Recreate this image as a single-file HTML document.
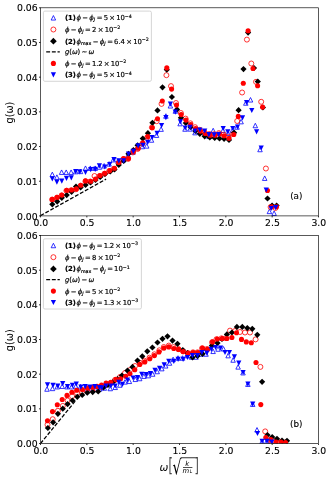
<!DOCTYPE html>
<html><head><meta charset="utf-8"><style>
html,body{margin:0;padding:0;background:#fff;}
svg{display:block;}
text{font-family:'DejaVu Sans', 'Liberation Sans', sans-serif;fill:#000;}
.tk{font-size:9.3px;stroke:#000;stroke-width:0.12px;}
.lg{font-size:7px;}
.lgt{stroke:#000;stroke-width:0.18px;}
.an{font-size:8.8px;stroke:#000;stroke-width:0.12px;}
</style></head><body>
<svg width="330" height="480" viewBox="0 0 330 480">
<rect width="330" height="480" fill="#fff"/>
<clipPath id="cliptop"><rect x="40.50" y="7.80" width="278.00" height="208.10"/></clipPath>
<clipPath id="clipbot"><rect x="40.50" y="235.50" width="278.00" height="208.00"/></clipPath>
<g clip-path="url(#cliptop)">
<path d="M52.30,172.15L50.05,176.65L54.55,176.65Z" fill="none" stroke="#0000ff" stroke-width="0.8" stroke-linejoin="miter"/>
<path d="M56.90,174.85L54.65,179.35L59.15,179.35Z" fill="none" stroke="#0000ff" stroke-width="0.8" stroke-linejoin="miter"/>
<path d="M61.60,169.95L59.35,174.45L63.85,174.45Z" fill="none" stroke="#0000ff" stroke-width="0.8" stroke-linejoin="miter"/>
<path d="M66.20,169.95L63.95,174.45L68.45,174.45Z" fill="none" stroke="#0000ff" stroke-width="0.8" stroke-linejoin="miter"/>
<path d="M71.10,169.95L68.85,174.45L73.35,174.45Z" fill="none" stroke="#0000ff" stroke-width="0.8" stroke-linejoin="miter"/>
<path d="M75.70,169.35L73.45,173.85L77.95,173.85Z" fill="none" stroke="#0000ff" stroke-width="0.8" stroke-linejoin="miter"/>
<path d="M80.50,169.15L78.25,173.65L82.75,173.65Z" fill="none" stroke="#0000ff" stroke-width="0.8" stroke-linejoin="miter"/>
<path d="M85.50,165.95L83.25,170.45L87.75,170.45Z" fill="none" stroke="#0000ff" stroke-width="0.8" stroke-linejoin="miter"/>
<path d="M90.30,165.95L88.05,170.45L92.55,170.45Z" fill="none" stroke="#0000ff" stroke-width="0.8" stroke-linejoin="miter"/>
<path d="M95.20,165.95L92.95,170.45L97.45,170.45Z" fill="none" stroke="#0000ff" stroke-width="0.8" stroke-linejoin="miter"/>
<path d="M99.40,164.75L97.15,169.25L101.65,169.25Z" fill="none" stroke="#0000ff" stroke-width="0.8" stroke-linejoin="miter"/>
<path d="M104.20,163.55L101.95,168.05L106.45,168.05Z" fill="none" stroke="#0000ff" stroke-width="0.8" stroke-linejoin="miter"/>
<path d="M109.10,161.65L106.85,166.15L111.35,166.15Z" fill="none" stroke="#0000ff" stroke-width="0.8" stroke-linejoin="miter"/>
<path d="M113.30,157.45L111.05,161.95L115.55,161.95Z" fill="none" stroke="#0000ff" stroke-width="0.8" stroke-linejoin="miter"/>
<path d="M118.00,158.75L115.75,163.25L120.25,163.25Z" fill="none" stroke="#0000ff" stroke-width="0.8" stroke-linejoin="miter"/>
<path d="M123.00,157.75L120.75,162.25L125.25,162.25Z" fill="none" stroke="#0000ff" stroke-width="0.8" stroke-linejoin="miter"/>
<path d="M128.00,152.75L125.75,157.25L130.25,157.25Z" fill="none" stroke="#0000ff" stroke-width="0.8" stroke-linejoin="miter"/>
<path d="M133.00,149.75L130.75,154.25L135.25,154.25Z" fill="none" stroke="#0000ff" stroke-width="0.8" stroke-linejoin="miter"/>
<path d="M137.50,145.25L135.25,149.75L139.75,149.75Z" fill="none" stroke="#0000ff" stroke-width="0.8" stroke-linejoin="miter"/>
<path d="M142.30,144.25L140.05,148.75L144.55,148.75Z" fill="none" stroke="#0000ff" stroke-width="0.8" stroke-linejoin="miter"/>
<path d="M146.70,143.65L144.45,148.15L148.95,148.15Z" fill="none" stroke="#0000ff" stroke-width="0.8" stroke-linejoin="miter"/>
<path d="M151.50,137.75L149.25,142.25L153.75,142.25Z" fill="none" stroke="#0000ff" stroke-width="0.8" stroke-linejoin="miter"/>
<path d="M156.50,132.95L154.25,137.45L158.75,137.45Z" fill="none" stroke="#0000ff" stroke-width="0.8" stroke-linejoin="miter"/>
<path d="M161.10,126.85L158.85,131.35L163.35,131.35Z" fill="none" stroke="#0000ff" stroke-width="0.8" stroke-linejoin="miter"/>
<path d="M165.90,113.75L163.65,118.25L168.15,118.25Z" fill="none" stroke="#0000ff" stroke-width="0.8" stroke-linejoin="miter"/>
<path d="M170.40,103.55L168.15,108.05L172.65,108.05Z" fill="none" stroke="#0000ff" stroke-width="0.8" stroke-linejoin="miter"/>
<path d="M175.30,108.75L173.05,113.25L177.55,113.25Z" fill="none" stroke="#0000ff" stroke-width="0.8" stroke-linejoin="miter"/>
<path d="M180.10,121.35L177.85,125.85L182.35,125.85Z" fill="none" stroke="#0000ff" stroke-width="0.8" stroke-linejoin="miter"/>
<path d="M185.00,126.75L182.75,131.25L187.25,131.25Z" fill="none" stroke="#0000ff" stroke-width="0.8" stroke-linejoin="miter"/>
<path d="M190.00,126.65L187.75,131.15L192.25,131.15Z" fill="none" stroke="#0000ff" stroke-width="0.8" stroke-linejoin="miter"/>
<path d="M195.00,130.35L192.75,134.85L197.25,134.85Z" fill="none" stroke="#0000ff" stroke-width="0.8" stroke-linejoin="miter"/>
<path d="M199.80,129.25L197.55,133.75L202.05,133.75Z" fill="none" stroke="#0000ff" stroke-width="0.8" stroke-linejoin="miter"/>
<path d="M204.70,130.25L202.45,134.75L206.95,134.75Z" fill="none" stroke="#0000ff" stroke-width="0.8" stroke-linejoin="miter"/>
<path d="M209.00,133.95L206.75,138.45L211.25,138.45Z" fill="none" stroke="#0000ff" stroke-width="0.8" stroke-linejoin="miter"/>
<path d="M213.20,128.25L210.95,132.75L215.45,132.75Z" fill="none" stroke="#0000ff" stroke-width="0.8" stroke-linejoin="miter"/>
<path d="M218.00,133.85L215.75,138.35L220.25,138.35Z" fill="none" stroke="#0000ff" stroke-width="0.8" stroke-linejoin="miter"/>
<path d="M223.00,128.05L220.75,132.55L225.25,132.55Z" fill="none" stroke="#0000ff" stroke-width="0.8" stroke-linejoin="miter"/>
<path d="M228.00,130.95L225.75,135.45L230.25,135.45Z" fill="none" stroke="#0000ff" stroke-width="0.8" stroke-linejoin="miter"/>
<path d="M232.50,127.95L230.25,132.45L234.75,132.45Z" fill="none" stroke="#0000ff" stroke-width="0.8" stroke-linejoin="miter"/>
<path d="M237.00,124.75L234.75,129.25L239.25,129.25Z" fill="none" stroke="#0000ff" stroke-width="0.8" stroke-linejoin="miter"/>
<path d="M241.10,119.35L238.85,123.85L243.35,123.85Z" fill="none" stroke="#0000ff" stroke-width="0.8" stroke-linejoin="miter"/>
<path d="M245.80,100.75L243.55,105.25L248.05,105.25Z" fill="none" stroke="#0000ff" stroke-width="0.8" stroke-linejoin="miter"/>
<path d="M250.50,97.55L248.25,102.05L252.75,102.05Z" fill="none" stroke="#0000ff" stroke-width="0.8" stroke-linejoin="miter"/>
<path d="M255.30,123.25L253.05,127.75L257.55,127.75Z" fill="none" stroke="#0000ff" stroke-width="0.8" stroke-linejoin="miter"/>
<path d="M260.00,147.25L257.75,151.75L262.25,151.75Z" fill="none" stroke="#0000ff" stroke-width="0.8" stroke-linejoin="miter"/>
<path d="M264.70,175.95L262.45,180.45L266.95,180.45Z" fill="none" stroke="#0000ff" stroke-width="0.8" stroke-linejoin="miter"/>
<path d="M269.40,209.15L267.15,213.65L271.65,213.65Z" fill="none" stroke="#0000ff" stroke-width="0.8" stroke-linejoin="miter"/>
<path d="M274.10,210.95L271.85,215.45L276.35,215.45Z" fill="none" stroke="#0000ff" stroke-width="0.8" stroke-linejoin="miter"/>
<circle cx="52.10" cy="199.60" r="2.50" fill="none" stroke="#ff0000" stroke-width="0.8"/>
<circle cx="56.90" cy="197.70" r="2.50" fill="none" stroke="#ff0000" stroke-width="0.8"/>
<circle cx="61.60" cy="195.50" r="2.50" fill="none" stroke="#ff0000" stroke-width="0.8"/>
<circle cx="66.40" cy="190.80" r="2.50" fill="none" stroke="#ff0000" stroke-width="0.8"/>
<circle cx="71.10" cy="190.30" r="2.50" fill="none" stroke="#ff0000" stroke-width="0.8"/>
<circle cx="75.90" cy="189.30" r="2.50" fill="none" stroke="#ff0000" stroke-width="0.8"/>
<circle cx="80.60" cy="185.80" r="2.50" fill="none" stroke="#ff0000" stroke-width="0.8"/>
<circle cx="85.40" cy="181.30" r="2.50" fill="none" stroke="#ff0000" stroke-width="0.8"/>
<circle cx="90.10" cy="181.60" r="2.50" fill="none" stroke="#ff0000" stroke-width="0.8"/>
<circle cx="94.50" cy="176.00" r="2.50" fill="none" stroke="#ff0000" stroke-width="0.8"/>
<circle cx="99.60" cy="176.10" r="2.50" fill="none" stroke="#ff0000" stroke-width="0.8"/>
<circle cx="104.40" cy="173.80" r="2.50" fill="none" stroke="#ff0000" stroke-width="0.8"/>
<circle cx="109.10" cy="171.20" r="2.50" fill="none" stroke="#ff0000" stroke-width="0.8"/>
<circle cx="113.90" cy="168.80" r="2.50" fill="none" stroke="#ff0000" stroke-width="0.8"/>
<circle cx="118.60" cy="163.10" r="2.50" fill="none" stroke="#ff0000" stroke-width="0.8"/>
<circle cx="123.40" cy="159.10" r="2.50" fill="none" stroke="#ff0000" stroke-width="0.8"/>
<circle cx="128.10" cy="158.90" r="2.50" fill="none" stroke="#ff0000" stroke-width="0.8"/>
<circle cx="132.90" cy="152.40" r="2.50" fill="none" stroke="#ff0000" stroke-width="0.8"/>
<circle cx="137.60" cy="149.00" r="2.50" fill="none" stroke="#ff0000" stroke-width="0.8"/>
<circle cx="142.40" cy="143.70" r="2.50" fill="none" stroke="#ff0000" stroke-width="0.8"/>
<circle cx="147.10" cy="137.70" r="2.50" fill="none" stroke="#ff0000" stroke-width="0.8"/>
<circle cx="151.90" cy="127.40" r="2.50" fill="none" stroke="#ff0000" stroke-width="0.8"/>
<circle cx="156.70" cy="121.20" r="2.50" fill="none" stroke="#ff0000" stroke-width="0.8"/>
<circle cx="161.50" cy="103.90" r="2.50" fill="none" stroke="#ff0000" stroke-width="0.8"/>
<circle cx="166.40" cy="75.20" r="2.50" fill="none" stroke="#ff0000" stroke-width="0.8"/>
<circle cx="171.00" cy="86.10" r="2.50" fill="none" stroke="#ff0000" stroke-width="0.8"/>
<circle cx="176.00" cy="103.00" r="2.50" fill="none" stroke="#ff0000" stroke-width="0.8"/>
<circle cx="180.90" cy="113.00" r="2.50" fill="none" stroke="#ff0000" stroke-width="0.8"/>
<circle cx="185.60" cy="118.60" r="2.50" fill="none" stroke="#ff0000" stroke-width="0.8"/>
<circle cx="190.40" cy="123.30" r="2.50" fill="none" stroke="#ff0000" stroke-width="0.8"/>
<circle cx="195.10" cy="127.20" r="2.50" fill="none" stroke="#ff0000" stroke-width="0.8"/>
<circle cx="199.90" cy="129.80" r="2.50" fill="none" stroke="#ff0000" stroke-width="0.8"/>
<circle cx="204.60" cy="132.20" r="2.50" fill="none" stroke="#ff0000" stroke-width="0.8"/>
<circle cx="209.40" cy="134.00" r="2.50" fill="none" stroke="#ff0000" stroke-width="0.8"/>
<circle cx="214.10" cy="134.20" r="2.50" fill="none" stroke="#ff0000" stroke-width="0.8"/>
<circle cx="218.90" cy="133.10" r="2.50" fill="none" stroke="#ff0000" stroke-width="0.8"/>
<circle cx="223.60" cy="134.60" r="2.50" fill="none" stroke="#ff0000" stroke-width="0.8"/>
<circle cx="228.40" cy="136.90" r="2.50" fill="none" stroke="#ff0000" stroke-width="0.8"/>
<circle cx="233.10" cy="134.00" r="2.50" fill="none" stroke="#ff0000" stroke-width="0.8"/>
<circle cx="237.20" cy="121.00" r="2.50" fill="none" stroke="#ff0000" stroke-width="0.8"/>
<circle cx="242.10" cy="92.50" r="2.50" fill="none" stroke="#ff0000" stroke-width="0.8"/>
<circle cx="246.90" cy="39.60" r="2.50" fill="none" stroke="#ff0000" stroke-width="0.8"/>
<circle cx="251.30" cy="63.50" r="2.50" fill="none" stroke="#ff0000" stroke-width="0.8"/>
<circle cx="256.00" cy="81.80" r="2.50" fill="none" stroke="#ff0000" stroke-width="0.8"/>
<circle cx="261.20" cy="101.80" r="2.50" fill="none" stroke="#ff0000" stroke-width="0.8"/>
<circle cx="265.90" cy="168.50" r="2.50" fill="none" stroke="#ff0000" stroke-width="0.8"/>
<circle cx="270.60" cy="207.00" r="2.50" fill="none" stroke="#ff0000" stroke-width="0.8"/>
<circle cx="275.40" cy="208.00" r="2.50" fill="none" stroke="#ff0000" stroke-width="0.8"/>
<path d="M52.30,201.20L55.40,204.30L52.30,207.40L49.20,204.30Z" fill="#000000"/>
<path d="M57.20,198.50L60.30,201.60L57.20,204.70L54.10,201.60Z" fill="#000000"/>
<path d="M61.80,194.70L64.90,197.80L61.80,200.90L58.70,197.80Z" fill="#000000"/>
<path d="M66.70,192.00L69.80,195.10L66.70,198.20L63.60,195.10Z" fill="#000000"/>
<path d="M71.60,188.70L74.70,191.80L71.60,194.90L68.50,191.80Z" fill="#000000"/>
<path d="M76.00,183.40L79.10,186.50L76.00,189.60L72.90,186.50Z" fill="#000000"/>
<path d="M80.60,184.30L83.70,187.40L80.60,190.50L77.50,187.40Z" fill="#000000"/>
<path d="M85.57,181.83L88.67,184.93L85.57,188.03L82.47,184.93Z" fill="#000000"/>
<path d="M90.53,179.37L93.63,182.47L90.53,185.57L87.43,182.47Z" fill="#000000"/>
<path d="M95.50,176.90L98.60,180.00L95.50,183.10L92.40,180.00Z" fill="#000000"/>
<path d="M100.25,173.90L103.35,177.00L100.25,180.10L97.15,177.00Z" fill="#000000"/>
<path d="M105.00,170.90L108.10,174.00L105.00,177.10L101.90,174.00Z" fill="#000000"/>
<path d="M110.30,168.40L113.40,171.50L110.30,174.60L107.20,171.50Z" fill="#000000"/>
<path d="M114.50,166.40L117.60,169.50L114.50,172.60L111.40,169.50Z" fill="#000000"/>
<path d="M118.80,161.90L121.90,165.00L118.80,168.10L115.70,165.00Z" fill="#000000"/>
<path d="M123.70,157.90L126.80,161.00L123.70,164.10L120.60,161.00Z" fill="#000000"/>
<path d="M128.50,150.70L131.60,153.80L128.50,156.90L125.40,153.80Z" fill="#000000"/>
<path d="M133.40,146.90L136.50,150.00L133.40,153.10L130.30,150.00Z" fill="#000000"/>
<path d="M137.60,142.20L140.70,145.30L137.60,148.40L134.50,145.30Z" fill="#000000"/>
<path d="M142.80,135.50L145.90,138.60L142.80,141.70L139.70,138.60Z" fill="#000000"/>
<path d="M147.90,130.10L151.00,133.20L147.90,136.30L144.80,133.20Z" fill="#000000"/>
<path d="M152.40,119.70L155.50,122.80L152.40,125.90L149.30,122.80Z" fill="#000000"/>
<path d="M157.50,107.30L160.60,110.40L157.50,113.50L154.40,110.40Z" fill="#000000"/>
<path d="M162.50,84.20L165.60,87.30L162.50,90.40L159.40,87.30Z" fill="#000000"/>
<path d="M166.80,66.60L169.90,69.70L166.80,72.80L163.70,69.70Z" fill="#000000"/>
<path d="M171.90,93.90L175.00,97.00L171.90,100.10L168.80,97.00Z" fill="#000000"/>
<path d="M177.00,106.30L180.10,109.40L177.00,112.50L173.90,109.40Z" fill="#000000"/>
<path d="M180.90,114.70L184.00,117.80L180.90,120.90L177.80,117.80Z" fill="#000000"/>
<path d="M185.80,119.90L188.90,123.00L185.80,126.10L182.70,123.00Z" fill="#000000"/>
<path d="M190.50,123.90L193.60,127.00L190.50,130.10L187.40,127.00Z" fill="#000000"/>
<path d="M195.40,127.90L198.50,131.00L195.40,134.10L192.30,131.00Z" fill="#000000"/>
<path d="M199.80,130.70L202.90,133.80L199.80,136.90L196.70,133.80Z" fill="#000000"/>
<path d="M204.70,133.20L207.80,136.30L204.70,139.40L201.60,136.30Z" fill="#000000"/>
<path d="M209.80,134.40L212.90,137.50L209.80,140.60L206.70,137.50Z" fill="#000000"/>
<path d="M214.70,134.90L217.80,138.00L214.70,141.10L211.60,138.00Z" fill="#000000"/>
<path d="M219.50,135.40L222.60,138.50L219.50,141.60L216.40,138.50Z" fill="#000000"/>
<path d="M224.10,135.70L227.20,138.80L224.10,141.90L221.00,138.80Z" fill="#000000"/>
<path d="M229.00,136.90L232.10,140.00L229.00,143.10L225.90,140.00Z" fill="#000000"/>
<path d="M234.10,129.60L237.20,132.70L234.10,135.80L231.00,132.70Z" fill="#000000"/>
<path d="M238.60,107.10L241.70,110.20L238.60,113.30L235.50,110.20Z" fill="#000000"/>
<path d="M243.50,66.00L246.60,69.10L243.50,72.20L240.40,69.10Z" fill="#000000"/>
<path d="M248.10,29.50L251.20,32.60L248.10,35.70L245.00,32.60Z" fill="#000000"/>
<path d="M254.00,64.90L257.10,68.00L254.00,71.10L250.90,68.00Z" fill="#000000"/>
<path d="M257.80,78.50L260.90,81.60L257.80,84.70L254.70,81.60Z" fill="#000000"/>
<path d="M262.90,104.40L266.00,107.50L262.90,110.60L259.80,107.50Z" fill="#000000"/>
<path d="M267.50,195.40L270.60,198.50L267.50,201.60L264.40,198.50Z" fill="#000000"/>
<path d="M272.10,202.40L275.20,205.50L272.10,208.60L269.00,205.50Z" fill="#000000"/>
<path d="M276.60,202.40L279.70,205.50L276.60,208.60L273.50,205.50Z" fill="#000000"/>
<line x1="40.50" y1="215.60" x2="106.10" y2="179.10" stroke="#000" stroke-width="1.25" stroke-dasharray="3.9,1.75"/>
<circle cx="52.30" cy="199.40" r="2.55" fill="#ff0000"/>
<circle cx="57.20" cy="197.30" r="2.55" fill="#ff0000"/>
<circle cx="61.80" cy="195.10" r="2.55" fill="#ff0000"/>
<circle cx="66.70" cy="190.20" r="2.55" fill="#ff0000"/>
<circle cx="71.60" cy="190.00" r="2.55" fill="#ff0000"/>
<circle cx="76.30" cy="188.90" r="2.55" fill="#ff0000"/>
<circle cx="80.80" cy="185.30" r="2.55" fill="#ff0000"/>
<circle cx="85.50" cy="180.90" r="2.55" fill="#ff0000"/>
<circle cx="90.70" cy="181.30" r="2.55" fill="#ff0000"/>
<circle cx="95.50" cy="179.10" r="2.55" fill="#ff0000"/>
<circle cx="100.00" cy="175.50" r="2.55" fill="#ff0000"/>
<circle cx="104.80" cy="173.30" r="2.55" fill="#ff0000"/>
<circle cx="109.70" cy="170.60" r="2.55" fill="#ff0000"/>
<circle cx="114.50" cy="168.20" r="2.55" fill="#ff0000"/>
<circle cx="118.80" cy="162.50" r="2.55" fill="#ff0000"/>
<circle cx="123.70" cy="158.60" r="2.55" fill="#ff0000"/>
<circle cx="128.50" cy="158.60" r="2.55" fill="#ff0000"/>
<circle cx="133.40" cy="151.40" r="2.55" fill="#ff0000"/>
<circle cx="138.20" cy="148.30" r="2.55" fill="#ff0000"/>
<circle cx="142.80" cy="142.90" r="2.55" fill="#ff0000"/>
<circle cx="147.70" cy="136.60" r="2.55" fill="#ff0000"/>
<circle cx="152.20" cy="127.80" r="2.55" fill="#ff0000"/>
<circle cx="157.50" cy="118.80" r="2.55" fill="#ff0000"/>
<circle cx="162.30" cy="101.00" r="2.55" fill="#ff0000"/>
<circle cx="166.80" cy="67.90" r="2.55" fill="#ff0000"/>
<circle cx="171.60" cy="89.10" r="2.55" fill="#ff0000"/>
<circle cx="176.50" cy="105.10" r="2.55" fill="#ff0000"/>
<circle cx="181.20" cy="114.60" r="2.55" fill="#ff0000"/>
<circle cx="186.00" cy="120.10" r="2.55" fill="#ff0000"/>
<circle cx="190.70" cy="124.60" r="2.55" fill="#ff0000"/>
<circle cx="195.60" cy="128.60" r="2.55" fill="#ff0000"/>
<circle cx="200.40" cy="131.10" r="2.55" fill="#ff0000"/>
<circle cx="205.30" cy="133.50" r="2.55" fill="#ff0000"/>
<circle cx="210.10" cy="135.30" r="2.55" fill="#ff0000"/>
<circle cx="215.00" cy="135.20" r="2.55" fill="#ff0000"/>
<circle cx="219.30" cy="134.00" r="2.55" fill="#ff0000"/>
<circle cx="224.10" cy="135.80" r="2.55" fill="#ff0000"/>
<circle cx="229.00" cy="138.20" r="2.55" fill="#ff0000"/>
<circle cx="233.80" cy="134.50" r="2.55" fill="#ff0000"/>
<circle cx="238.30" cy="116.40" r="2.55" fill="#ff0000"/>
<circle cx="243.30" cy="83.30" r="2.55" fill="#ff0000"/>
<circle cx="248.10" cy="30.80" r="2.55" fill="#ff0000"/>
<circle cx="253.00" cy="68.50" r="2.55" fill="#ff0000"/>
<circle cx="257.60" cy="85.70" r="2.55" fill="#ff0000"/>
<circle cx="262.60" cy="107.10" r="2.55" fill="#ff0000"/>
<circle cx="267.50" cy="190.50" r="2.55" fill="#ff0000"/>
<circle cx="271.80" cy="206.80" r="2.55" fill="#ff0000"/>
<circle cx="276.50" cy="206.80" r="2.55" fill="#ff0000"/>
<path d="M52.30,181.50L49.70,176.30L54.90,176.30Z" fill="#0000ff"/>
<path d="M56.90,184.80L54.30,179.60L59.50,179.60Z" fill="#0000ff"/>
<path d="M61.80,183.70L59.20,178.50L64.40,178.50Z" fill="#0000ff"/>
<path d="M66.50,181.00L63.90,175.80L69.10,175.80Z" fill="#0000ff"/>
<path d="M71.30,180.40L68.70,175.20L73.90,175.20Z" fill="#0000ff"/>
<path d="M75.70,174.20L73.10,169.00L78.30,169.00Z" fill="#0000ff"/>
<path d="M79.80,174.50L77.20,169.30L82.40,169.30Z" fill="#0000ff"/>
<path d="M85.50,175.00L82.90,169.80L88.10,169.80Z" fill="#0000ff"/>
<path d="M90.70,172.20L88.10,167.00L93.30,167.00Z" fill="#0000ff"/>
<path d="M95.20,172.00L92.60,166.80L97.80,166.80Z" fill="#0000ff"/>
<path d="M99.40,168.40L96.80,163.20L102.00,163.20Z" fill="#0000ff"/>
<path d="M104.80,169.60L102.20,164.40L107.40,164.40Z" fill="#0000ff"/>
<path d="M109.70,167.10L107.10,161.90L112.30,161.90Z" fill="#0000ff"/>
<path d="M114.00,162.30L111.40,157.10L116.60,157.10Z" fill="#0000ff"/>
<path d="M118.80,163.40L116.20,158.20L121.40,158.20Z" fill="#0000ff"/>
<path d="M123.70,163.40L121.10,158.20L126.30,158.20Z" fill="#0000ff"/>
<path d="M128.50,156.60L125.90,151.40L131.10,151.40Z" fill="#0000ff"/>
<path d="M133.40,154.00L130.80,148.80L136.00,148.80Z" fill="#0000ff"/>
<path d="M138.20,148.50L135.60,143.30L140.80,143.30Z" fill="#0000ff"/>
<path d="M143.10,147.90L140.50,142.70L145.70,142.70Z" fill="#0000ff"/>
<path d="M147.70,144.90L145.10,139.70L150.30,139.70Z" fill="#0000ff"/>
<path d="M152.20,140.10L149.60,134.90L154.80,134.90Z" fill="#0000ff"/>
<path d="M157.10,135.90L154.50,130.70L159.70,130.70Z" fill="#0000ff"/>
<path d="M161.60,128.10L159.00,122.90L164.20,122.90Z" fill="#0000ff"/>
<path d="M165.90,120.20L163.30,115.00L168.50,115.00Z" fill="#0000ff"/>
<path d="M170.40,106.80L167.80,101.60L173.00,101.60Z" fill="#0000ff"/>
<path d="M175.30,114.70L172.70,109.50L177.90,109.50Z" fill="#0000ff"/>
<path d="M180.40,124.50L177.80,119.30L183.00,119.30Z" fill="#0000ff"/>
<path d="M185.20,130.60L182.60,125.40L187.80,125.40Z" fill="#0000ff"/>
<path d="M190.10,130.00L187.50,124.80L192.70,124.80Z" fill="#0000ff"/>
<path d="M195.00,133.70L192.40,128.50L197.60,128.50Z" fill="#0000ff"/>
<path d="M199.80,132.60L197.20,127.40L202.40,127.40Z" fill="#0000ff"/>
<path d="M204.70,133.60L202.10,128.40L207.30,128.40Z" fill="#0000ff"/>
<path d="M208.90,137.30L206.30,132.10L211.50,132.10Z" fill="#0000ff"/>
<path d="M214.10,137.50L211.50,132.30L216.70,132.30Z" fill="#0000ff"/>
<path d="M218.70,137.10L216.10,131.90L221.30,131.90Z" fill="#0000ff"/>
<path d="M223.20,131.10L220.60,125.90L225.80,125.90Z" fill="#0000ff"/>
<path d="M227.80,134.40L225.20,129.20L230.40,129.20Z" fill="#0000ff"/>
<path d="M232.80,131.10L230.20,125.90L235.40,125.90Z" fill="#0000ff"/>
<path d="M237.50,129.60L234.90,124.40L240.10,124.40Z" fill="#0000ff"/>
<path d="M242.50,120.50L239.90,115.30L245.10,115.30Z" fill="#0000ff"/>
<path d="M246.60,105.30L244.00,100.10L249.20,100.10Z" fill="#0000ff"/>
<path d="M251.80,113.10L249.20,107.90L254.40,107.90Z" fill="#0000ff"/>
<path d="M256.60,134.40L254.00,129.20L259.20,129.20Z" fill="#0000ff"/>
<path d="M261.20,150.60L258.60,145.40L263.80,145.40Z" fill="#0000ff"/>
<path d="M266.20,192.60L263.60,187.40L268.80,187.40Z" fill="#0000ff"/>
<path d="M271.20,211.10L268.60,205.90L273.80,205.90Z" fill="#0000ff"/>
<path d="M275.70,210.30L273.10,205.10L278.30,205.10Z" fill="#0000ff"/>
</g>
<line x1="40.50" y1="215.90" x2="40.50" y2="217.40" stroke="#000" stroke-width="0.8"/>
<text x="40.80" y="226.40" text-anchor="middle" class="tk">0.0</text>
<line x1="86.83" y1="215.90" x2="86.83" y2="217.40" stroke="#000" stroke-width="0.8"/>
<text x="87.13" y="226.40" text-anchor="middle" class="tk">0.5</text>
<line x1="133.17" y1="215.90" x2="133.17" y2="217.40" stroke="#000" stroke-width="0.8"/>
<text x="133.47" y="226.40" text-anchor="middle" class="tk">1.0</text>
<line x1="179.50" y1="215.90" x2="179.50" y2="217.40" stroke="#000" stroke-width="0.8"/>
<text x="179.80" y="226.40" text-anchor="middle" class="tk">1.5</text>
<line x1="225.83" y1="215.90" x2="225.83" y2="217.40" stroke="#000" stroke-width="0.8"/>
<text x="226.13" y="226.40" text-anchor="middle" class="tk">2.0</text>
<line x1="272.17" y1="215.90" x2="272.17" y2="217.40" stroke="#000" stroke-width="0.8"/>
<text x="272.47" y="226.40" text-anchor="middle" class="tk">2.5</text>
<line x1="318.50" y1="215.90" x2="318.50" y2="217.40" stroke="#000" stroke-width="0.8"/>
<text x="318.80" y="226.40" text-anchor="middle" class="tk">3.0</text>
<line x1="39.00" y1="215.90" x2="40.50" y2="215.90" stroke="#000" stroke-width="0.8"/>
<text x="37.70" y="219.50" text-anchor="end" class="tk">0.00</text>
<line x1="39.00" y1="181.22" x2="40.50" y2="181.22" stroke="#000" stroke-width="0.8"/>
<text x="37.70" y="184.82" text-anchor="end" class="tk">0.01</text>
<line x1="39.00" y1="146.53" x2="40.50" y2="146.53" stroke="#000" stroke-width="0.8"/>
<text x="37.70" y="150.13" text-anchor="end" class="tk">0.02</text>
<line x1="39.00" y1="111.85" x2="40.50" y2="111.85" stroke="#000" stroke-width="0.8"/>
<text x="37.70" y="115.45" text-anchor="end" class="tk">0.03</text>
<line x1="39.00" y1="77.17" x2="40.50" y2="77.17" stroke="#000" stroke-width="0.8"/>
<text x="37.70" y="80.77" text-anchor="end" class="tk">0.04</text>
<line x1="39.00" y1="42.48" x2="40.50" y2="42.48" stroke="#000" stroke-width="0.8"/>
<text x="37.70" y="46.08" text-anchor="end" class="tk">0.05</text>
<line x1="39.00" y1="7.80" x2="40.50" y2="7.80" stroke="#000" stroke-width="0.8"/>
<text x="37.70" y="11.40" text-anchor="end" class="tk">0.06</text>
<rect x="40.50" y="7.80" width="278.00" height="208.10" fill="none" stroke="#000" stroke-width="0.65"/>
<text transform="translate(13.2,112.55) rotate(-90)" text-anchor="middle" font-size="9.75">g(ω)</text>
<g clip-path="url(#clipbot)">
<path d="M47.00,386.75L44.75,391.25L49.25,391.25Z" fill="none" stroke="#0000ff" stroke-width="0.8" stroke-linejoin="miter"/>
<path d="M52.50,386.15L50.25,390.65L54.75,390.65Z" fill="none" stroke="#0000ff" stroke-width="0.8" stroke-linejoin="miter"/>
<path d="M57.30,384.45L55.05,388.95L59.55,388.95Z" fill="none" stroke="#0000ff" stroke-width="0.8" stroke-linejoin="miter"/>
<path d="M62.20,383.95L59.95,388.45L64.45,388.45Z" fill="none" stroke="#0000ff" stroke-width="0.8" stroke-linejoin="miter"/>
<path d="M67.00,384.45L64.75,388.95L69.25,388.95Z" fill="none" stroke="#0000ff" stroke-width="0.8" stroke-linejoin="miter"/>
<path d="M71.60,384.45L69.35,388.95L73.85,388.95Z" fill="none" stroke="#0000ff" stroke-width="0.8" stroke-linejoin="miter"/>
<path d="M75.80,383.75L73.55,388.25L78.05,388.25Z" fill="none" stroke="#0000ff" stroke-width="0.8" stroke-linejoin="miter"/>
<path d="M80.50,384.45L78.25,388.95L82.75,388.95Z" fill="none" stroke="#0000ff" stroke-width="0.8" stroke-linejoin="miter"/>
<path d="M85.30,386.45L83.05,390.95L87.55,390.95Z" fill="none" stroke="#0000ff" stroke-width="0.8" stroke-linejoin="miter"/>
<path d="M90.00,386.45L87.75,390.95L92.25,390.95Z" fill="none" stroke="#0000ff" stroke-width="0.8" stroke-linejoin="miter"/>
<path d="M94.80,386.75L92.55,391.25L97.05,391.25Z" fill="none" stroke="#0000ff" stroke-width="0.8" stroke-linejoin="miter"/>
<path d="M99.50,386.75L97.25,391.25L101.75,391.25Z" fill="none" stroke="#0000ff" stroke-width="0.8" stroke-linejoin="miter"/>
<path d="M104.30,385.75L102.05,390.25L106.55,390.25Z" fill="none" stroke="#0000ff" stroke-width="0.8" stroke-linejoin="miter"/>
<path d="M110.30,386.25L108.05,390.75L112.55,390.75Z" fill="none" stroke="#0000ff" stroke-width="0.8" stroke-linejoin="miter"/>
<path d="M115.20,385.05L112.95,389.55L117.45,389.55Z" fill="none" stroke="#0000ff" stroke-width="0.8" stroke-linejoin="miter"/>
<path d="M119.80,382.75L117.55,387.25L122.05,387.25Z" fill="none" stroke="#0000ff" stroke-width="0.8" stroke-linejoin="miter"/>
<path d="M125.00,379.65L122.75,384.15L127.25,384.15Z" fill="none" stroke="#0000ff" stroke-width="0.8" stroke-linejoin="miter"/>
<path d="M129.40,379.05L127.15,383.55L131.65,383.55Z" fill="none" stroke="#0000ff" stroke-width="0.8" stroke-linejoin="miter"/>
<path d="M135.30,377.05L133.05,381.55L137.55,381.55Z" fill="none" stroke="#0000ff" stroke-width="0.8" stroke-linejoin="miter"/>
<path d="M139.70,376.25L137.45,380.75L141.95,380.75Z" fill="none" stroke="#0000ff" stroke-width="0.8" stroke-linejoin="miter"/>
<path d="M143.90,373.95L141.65,378.45L146.15,378.45Z" fill="none" stroke="#0000ff" stroke-width="0.8" stroke-linejoin="miter"/>
<path d="M148.30,373.35L146.05,377.85L150.55,377.85Z" fill="none" stroke="#0000ff" stroke-width="0.8" stroke-linejoin="miter"/>
<path d="M152.70,371.75L150.45,376.25L154.95,376.25Z" fill="none" stroke="#0000ff" stroke-width="0.8" stroke-linejoin="miter"/>
<path d="M157.20,369.25L154.95,373.75L159.45,373.75Z" fill="none" stroke="#0000ff" stroke-width="0.8" stroke-linejoin="miter"/>
<path d="M161.80,366.35L159.55,370.85L164.05,370.85Z" fill="none" stroke="#0000ff" stroke-width="0.8" stroke-linejoin="miter"/>
<path d="M165.65,363.55L163.40,368.05L167.90,368.05Z" fill="none" stroke="#0000ff" stroke-width="0.8" stroke-linejoin="miter"/>
<path d="M169.50,360.75L167.25,365.25L171.75,365.25Z" fill="none" stroke="#0000ff" stroke-width="0.8" stroke-linejoin="miter"/>
<path d="M173.10,357.15L170.85,361.65L175.35,361.65Z" fill="none" stroke="#0000ff" stroke-width="0.8" stroke-linejoin="miter"/>
<path d="M178.00,355.75L175.75,360.25L180.25,360.25Z" fill="none" stroke="#0000ff" stroke-width="0.8" stroke-linejoin="miter"/>
<path d="M182.50,355.75L180.25,360.25L184.75,360.25Z" fill="none" stroke="#0000ff" stroke-width="0.8" stroke-linejoin="miter"/>
<path d="M186.90,353.35L184.65,357.85L189.15,357.85Z" fill="none" stroke="#0000ff" stroke-width="0.8" stroke-linejoin="miter"/>
<path d="M191.50,354.75L189.25,359.25L193.75,359.25Z" fill="none" stroke="#0000ff" stroke-width="0.8" stroke-linejoin="miter"/>
<path d="M196.00,354.75L193.75,359.25L198.25,359.25Z" fill="none" stroke="#0000ff" stroke-width="0.8" stroke-linejoin="miter"/>
<path d="M201.00,351.75L198.75,356.25L203.25,356.25Z" fill="none" stroke="#0000ff" stroke-width="0.8" stroke-linejoin="miter"/>
<path d="M206.00,351.75L203.75,356.25L208.25,356.25Z" fill="none" stroke="#0000ff" stroke-width="0.8" stroke-linejoin="miter"/>
<path d="M213.10,349.05L210.85,353.55L215.35,353.55Z" fill="none" stroke="#0000ff" stroke-width="0.8" stroke-linejoin="miter"/>
<path d="M218.00,346.75L215.75,351.25L220.25,351.25Z" fill="none" stroke="#0000ff" stroke-width="0.8" stroke-linejoin="miter"/>
<path d="M223.50,346.55L221.25,351.05L225.75,351.05Z" fill="none" stroke="#0000ff" stroke-width="0.8" stroke-linejoin="miter"/>
<path d="M228.10,353.35L225.85,357.85L230.35,357.85Z" fill="none" stroke="#0000ff" stroke-width="0.8" stroke-linejoin="miter"/>
<path d="M233.10,357.75L230.85,362.25L235.35,362.25Z" fill="none" stroke="#0000ff" stroke-width="0.8" stroke-linejoin="miter"/>
<path d="M238.10,364.65L235.85,369.15L240.35,369.15Z" fill="none" stroke="#0000ff" stroke-width="0.8" stroke-linejoin="miter"/>
<path d="M243.00,370.45L240.75,374.95L245.25,374.95Z" fill="none" stroke="#0000ff" stroke-width="0.8" stroke-linejoin="miter"/>
<path d="M247.90,381.95L245.65,386.45L250.15,386.45Z" fill="none" stroke="#0000ff" stroke-width="0.8" stroke-linejoin="miter"/>
<path d="M252.70,401.95L250.45,406.45L254.95,406.45Z" fill="none" stroke="#0000ff" stroke-width="0.8" stroke-linejoin="miter"/>
<path d="M257.00,427.55L254.75,432.05L259.25,432.05Z" fill="none" stroke="#0000ff" stroke-width="0.8" stroke-linejoin="miter"/>
<path d="M262.00,439.25L259.75,443.75L264.25,443.75Z" fill="none" stroke="#0000ff" stroke-width="0.8" stroke-linejoin="miter"/>
<path d="M266.80,439.25L264.55,443.75L269.05,443.75Z" fill="none" stroke="#0000ff" stroke-width="0.8" stroke-linejoin="miter"/>
<path d="M271.50,439.75L269.25,444.25L273.75,444.25Z" fill="none" stroke="#0000ff" stroke-width="0.8" stroke-linejoin="miter"/>
<circle cx="47.50" cy="424.70" r="2.50" fill="none" stroke="#ff0000" stroke-width="0.8"/>
<circle cx="52.70" cy="419.20" r="2.50" fill="none" stroke="#ff0000" stroke-width="0.8"/>
<circle cx="57.90" cy="410.80" r="2.50" fill="none" stroke="#ff0000" stroke-width="0.8"/>
<circle cx="62.80" cy="405.90" r="2.50" fill="none" stroke="#ff0000" stroke-width="0.8"/>
<circle cx="67.60" cy="400.50" r="2.50" fill="none" stroke="#ff0000" stroke-width="0.8"/>
<circle cx="72.10" cy="396.20" r="2.50" fill="none" stroke="#ff0000" stroke-width="0.8"/>
<circle cx="77.00" cy="393.00" r="2.50" fill="none" stroke="#ff0000" stroke-width="0.8"/>
<circle cx="82.00" cy="391.50" r="2.50" fill="none" stroke="#ff0000" stroke-width="0.8"/>
<circle cx="87.00" cy="390.00" r="2.50" fill="none" stroke="#ff0000" stroke-width="0.8"/>
<circle cx="92.00" cy="389.50" r="2.50" fill="none" stroke="#ff0000" stroke-width="0.8"/>
<circle cx="96.50" cy="389.00" r="2.50" fill="none" stroke="#ff0000" stroke-width="0.8"/>
<circle cx="101.00" cy="387.00" r="2.50" fill="none" stroke="#ff0000" stroke-width="0.8"/>
<circle cx="106.00" cy="385.00" r="2.50" fill="none" stroke="#ff0000" stroke-width="0.8"/>
<circle cx="110.50" cy="383.00" r="2.50" fill="none" stroke="#ff0000" stroke-width="0.8"/>
<circle cx="115.00" cy="380.00" r="2.50" fill="none" stroke="#ff0000" stroke-width="0.8"/>
<circle cx="120.00" cy="377.00" r="2.50" fill="none" stroke="#ff0000" stroke-width="0.8"/>
<circle cx="125.00" cy="373.00" r="2.50" fill="none" stroke="#ff0000" stroke-width="0.8"/>
<circle cx="130.00" cy="370.00" r="2.50" fill="none" stroke="#ff0000" stroke-width="0.8"/>
<circle cx="135.00" cy="366.00" r="2.50" fill="none" stroke="#ff0000" stroke-width="0.8"/>
<circle cx="140.00" cy="363.00" r="2.50" fill="none" stroke="#ff0000" stroke-width="0.8"/>
<circle cx="144.50" cy="360.70" r="2.50" fill="none" stroke="#ff0000" stroke-width="0.8"/>
<circle cx="149.50" cy="357.70" r="2.50" fill="none" stroke="#ff0000" stroke-width="0.8"/>
<circle cx="154.40" cy="354.30" r="2.50" fill="none" stroke="#ff0000" stroke-width="0.8"/>
<circle cx="159.40" cy="350.30" r="2.50" fill="none" stroke="#ff0000" stroke-width="0.8"/>
<circle cx="163.80" cy="347.00" r="2.50" fill="none" stroke="#ff0000" stroke-width="0.8"/>
<circle cx="168.80" cy="345.60" r="2.50" fill="none" stroke="#ff0000" stroke-width="0.8"/>
<circle cx="173.50" cy="347.10" r="2.50" fill="none" stroke="#ff0000" stroke-width="0.8"/>
<circle cx="178.50" cy="349.10" r="2.50" fill="none" stroke="#ff0000" stroke-width="0.8"/>
<circle cx="183.00" cy="351.30" r="2.50" fill="none" stroke="#ff0000" stroke-width="0.8"/>
<circle cx="188.00" cy="353.10" r="2.50" fill="none" stroke="#ff0000" stroke-width="0.8"/>
<circle cx="193.00" cy="352.30" r="2.50" fill="none" stroke="#ff0000" stroke-width="0.8"/>
<circle cx="197.50" cy="352.30" r="2.50" fill="none" stroke="#ff0000" stroke-width="0.8"/>
<circle cx="202.00" cy="348.30" r="2.50" fill="none" stroke="#ff0000" stroke-width="0.8"/>
<circle cx="207.00" cy="349.00" r="2.50" fill="none" stroke="#ff0000" stroke-width="0.8"/>
<circle cx="212.00" cy="342.30" r="2.50" fill="none" stroke="#ff0000" stroke-width="0.8"/>
<circle cx="216.50" cy="339.20" r="2.50" fill="none" stroke="#ff0000" stroke-width="0.8"/>
<circle cx="221.50" cy="338.30" r="2.50" fill="none" stroke="#ff0000" stroke-width="0.8"/>
<circle cx="226.00" cy="338.20" r="2.50" fill="none" stroke="#ff0000" stroke-width="0.8"/>
<circle cx="230.00" cy="330.60" r="2.50" fill="none" stroke="#ff0000" stroke-width="0.8"/>
<circle cx="235.00" cy="331.00" r="2.50" fill="none" stroke="#ff0000" stroke-width="0.8"/>
<circle cx="240.00" cy="332.00" r="2.50" fill="none" stroke="#ff0000" stroke-width="0.8"/>
<circle cx="245.00" cy="332.50" r="2.50" fill="none" stroke="#ff0000" stroke-width="0.8"/>
<circle cx="250.00" cy="332.50" r="2.50" fill="none" stroke="#ff0000" stroke-width="0.8"/>
<circle cx="255.60" cy="339.40" r="2.50" fill="none" stroke="#ff0000" stroke-width="0.8"/>
<circle cx="260.40" cy="366.90" r="2.50" fill="none" stroke="#ff0000" stroke-width="0.8"/>
<circle cx="265.20" cy="431.40" r="2.50" fill="none" stroke="#ff0000" stroke-width="0.8"/>
<circle cx="270.00" cy="440.00" r="2.50" fill="none" stroke="#ff0000" stroke-width="0.8"/>
<circle cx="275.00" cy="442.00" r="2.50" fill="none" stroke="#ff0000" stroke-width="0.8"/>
<circle cx="280.00" cy="442.50" r="2.50" fill="none" stroke="#ff0000" stroke-width="0.8"/>
<circle cx="285.00" cy="442.50" r="2.50" fill="none" stroke="#ff0000" stroke-width="0.8"/>
<path d="M47.90,424.90L51.00,428.00L47.90,431.10L44.80,428.00Z" fill="#000000"/>
<path d="M53.10,419.20L56.20,422.30L53.10,425.40L50.00,422.30Z" fill="#000000"/>
<path d="M57.90,410.70L61.00,413.80L57.90,416.90L54.80,413.80Z" fill="#000000"/>
<path d="M62.80,405.60L65.90,408.70L62.80,411.80L59.70,408.70Z" fill="#000000"/>
<path d="M67.60,401.00L70.70,404.10L67.60,407.20L64.50,404.10Z" fill="#000000"/>
<path d="M72.50,397.40L75.60,400.50L72.50,403.60L69.40,400.50Z" fill="#000000"/>
<path d="M77.30,393.70L80.40,396.80L77.30,399.90L74.20,396.80Z" fill="#000000"/>
<path d="M82.20,391.90L85.30,395.00L82.20,398.10L79.10,395.00Z" fill="#000000"/>
<path d="M87.30,389.60L90.40,392.70L87.30,395.80L84.20,392.70Z" fill="#000000"/>
<path d="M92.70,389.00L95.80,392.10L92.70,395.20L89.60,392.10Z" fill="#000000"/>
<path d="M98.20,388.40L101.30,391.50L98.20,394.60L95.10,391.50Z" fill="#000000"/>
<path d="M103.60,384.20L106.70,387.30L103.60,390.40L100.50,387.30Z" fill="#000000"/>
<path d="M108.00,381.90L111.10,385.00L108.00,388.10L104.90,385.00Z" fill="#000000"/>
<path d="M112.70,379.30L115.80,382.40L112.70,385.50L109.60,382.40Z" fill="#000000"/>
<path d="M117.50,375.90L120.60,379.00L117.50,382.10L114.40,379.00Z" fill="#000000"/>
<path d="M121.90,372.50L125.00,375.60L121.90,378.70L118.80,375.60Z" fill="#000000"/>
<path d="M127.50,367.50L130.60,370.60L127.50,373.70L124.40,370.60Z" fill="#000000"/>
<path d="M132.50,363.80L135.60,366.90L132.50,370.00L129.40,366.90Z" fill="#000000"/>
<path d="M137.50,357.50L140.60,360.60L137.50,363.70L134.40,360.60Z" fill="#000000"/>
<path d="M142.30,353.20L145.40,356.30L142.30,359.40L139.20,356.30Z" fill="#000000"/>
<path d="M147.30,348.20L150.40,351.30L147.30,354.40L144.20,351.30Z" fill="#000000"/>
<path d="M152.40,344.40L155.50,347.50L152.40,350.60L149.30,347.50Z" fill="#000000"/>
<path d="M157.50,339.40L160.60,342.50L157.50,345.60L154.40,342.50Z" fill="#000000"/>
<path d="M162.50,335.70L165.60,338.80L162.50,341.90L159.40,338.80Z" fill="#000000"/>
<path d="M167.50,333.20L170.60,336.30L167.50,339.40L164.40,336.30Z" fill="#000000"/>
<path d="M172.50,337.50L175.60,340.60L172.50,343.70L169.40,340.60Z" fill="#000000"/>
<path d="M177.50,340.70L180.60,343.80L177.50,346.90L174.40,343.80Z" fill="#000000"/>
<path d="M182.80,346.90L185.90,350.00L182.80,353.10L179.70,350.00Z" fill="#000000"/>
<path d="M187.50,350.00L190.60,353.10L187.50,356.20L184.40,353.10Z" fill="#000000"/>
<path d="M192.50,354.40L195.60,357.50L192.50,360.60L189.40,357.50Z" fill="#000000"/>
<path d="M197.50,352.90L200.60,356.00L197.50,359.10L194.40,356.00Z" fill="#000000"/>
<path d="M202.50,350.70L205.60,353.80L202.50,356.90L199.40,353.80Z" fill="#000000"/>
<path d="M207.00,346.90L210.10,350.00L207.00,353.10L203.90,350.00Z" fill="#000000"/>
<path d="M211.90,342.50L215.00,345.60L211.90,348.70L208.80,345.60Z" fill="#000000"/>
<path d="M217.50,340.00L220.60,343.10L217.50,346.20L214.40,343.10Z" fill="#000000"/>
<path d="M222.00,335.90L225.10,339.00L222.00,342.10L218.90,339.00Z" fill="#000000"/>
<path d="M226.90,331.30L230.00,334.40L226.90,337.50L223.80,334.40Z" fill="#000000"/>
<path d="M231.90,329.40L235.00,332.50L231.90,335.60L228.80,332.50Z" fill="#000000"/>
<path d="M236.90,323.80L240.00,326.90L236.90,330.00L233.80,326.90Z" fill="#000000"/>
<path d="M242.30,323.80L245.40,326.90L242.30,330.00L239.20,326.90Z" fill="#000000"/>
<path d="M247.30,325.00L250.40,328.10L247.30,331.20L244.20,328.10Z" fill="#000000"/>
<path d="M252.30,325.70L255.40,328.80L252.30,331.90L249.20,328.80Z" fill="#000000"/>
<path d="M257.30,331.70L260.40,334.80L257.30,337.90L254.20,334.80Z" fill="#000000"/>
<path d="M262.10,378.70L265.20,381.80L262.10,384.90L259.00,381.80Z" fill="#000000"/>
<path d="M267.50,431.90L270.60,435.00L267.50,438.10L264.40,435.00Z" fill="#000000"/>
<path d="M272.20,433.90L275.30,437.00L272.20,440.10L269.10,437.00Z" fill="#000000"/>
<path d="M277.00,435.70L280.10,438.80L277.00,441.90L273.90,438.80Z" fill="#000000"/>
<path d="M282.00,437.40L285.10,440.50L282.00,443.60L278.90,440.50Z" fill="#000000"/>
<path d="M287.00,437.70L290.10,440.80L287.00,443.90L283.90,440.80Z" fill="#000000"/>
<line x1="40.50" y1="443.50" x2="75.50" y2="400.80" stroke="#000" stroke-width="1.25" stroke-dasharray="3.9,1.75"/>
<circle cx="47.50" cy="420.70" r="2.55" fill="#ff0000"/>
<circle cx="52.50" cy="411.60" r="2.55" fill="#ff0000"/>
<circle cx="57.30" cy="404.70" r="2.55" fill="#ff0000"/>
<circle cx="62.20" cy="399.50" r="2.55" fill="#ff0000"/>
<circle cx="67.00" cy="395.40" r="2.55" fill="#ff0000"/>
<circle cx="71.90" cy="392.20" r="2.55" fill="#ff0000"/>
<circle cx="76.70" cy="390.20" r="2.55" fill="#ff0000"/>
<circle cx="82.20" cy="389.50" r="2.55" fill="#ff0000"/>
<circle cx="87.30" cy="387.90" r="2.55" fill="#ff0000"/>
<circle cx="92.10" cy="387.30" r="2.55" fill="#ff0000"/>
<circle cx="97.00" cy="386.40" r="2.55" fill="#ff0000"/>
<circle cx="101.50" cy="385.00" r="2.55" fill="#ff0000"/>
<circle cx="106.10" cy="383.00" r="2.55" fill="#ff0000"/>
<circle cx="110.90" cy="382.40" r="2.55" fill="#ff0000"/>
<circle cx="115.80" cy="379.40" r="2.55" fill="#ff0000"/>
<circle cx="120.60" cy="378.80" r="2.55" fill="#ff0000"/>
<circle cx="125.60" cy="376.30" r="2.55" fill="#ff0000"/>
<circle cx="130.00" cy="373.80" r="2.55" fill="#ff0000"/>
<circle cx="134.80" cy="369.80" r="2.55" fill="#ff0000"/>
<circle cx="139.80" cy="364.40" r="2.55" fill="#ff0000"/>
<circle cx="144.80" cy="361.90" r="2.55" fill="#ff0000"/>
<circle cx="149.80" cy="358.80" r="2.55" fill="#ff0000"/>
<circle cx="154.40" cy="355.60" r="2.55" fill="#ff0000"/>
<circle cx="159.00" cy="351.90" r="2.55" fill="#ff0000"/>
<circle cx="164.00" cy="348.10" r="2.55" fill="#ff0000"/>
<circle cx="168.80" cy="346.90" r="2.55" fill="#ff0000"/>
<circle cx="173.80" cy="348.50" r="2.55" fill="#ff0000"/>
<circle cx="178.50" cy="349.40" r="2.55" fill="#ff0000"/>
<circle cx="183.10" cy="351.60" r="2.55" fill="#ff0000"/>
<circle cx="188.10" cy="353.40" r="2.55" fill="#ff0000"/>
<circle cx="193.10" cy="352.60" r="2.55" fill="#ff0000"/>
<circle cx="197.80" cy="352.60" r="2.55" fill="#ff0000"/>
<circle cx="202.50" cy="348.10" r="2.55" fill="#ff0000"/>
<circle cx="207.50" cy="349.40" r="2.55" fill="#ff0000"/>
<circle cx="212.50" cy="341.90" r="2.55" fill="#ff0000"/>
<circle cx="217.30" cy="339.00" r="2.55" fill="#ff0000"/>
<circle cx="222.30" cy="338.50" r="2.55" fill="#ff0000"/>
<circle cx="226.90" cy="338.50" r="2.55" fill="#ff0000"/>
<circle cx="231.90" cy="337.50" r="2.55" fill="#ff0000"/>
<circle cx="236.50" cy="332.80" r="2.55" fill="#ff0000"/>
<circle cx="241.50" cy="339.40" r="2.55" fill="#ff0000"/>
<circle cx="246.30" cy="341.90" r="2.55" fill="#ff0000"/>
<circle cx="251.30" cy="342.80" r="2.55" fill="#ff0000"/>
<circle cx="256.00" cy="362.50" r="2.55" fill="#ff0000"/>
<circle cx="260.80" cy="404.60" r="2.55" fill="#ff0000"/>
<circle cx="265.80" cy="437.50" r="2.55" fill="#ff0000"/>
<circle cx="270.80" cy="439.50" r="2.55" fill="#ff0000"/>
<circle cx="276.00" cy="442.00" r="2.55" fill="#ff0000"/>
<circle cx="280.90" cy="442.00" r="2.55" fill="#ff0000"/>
<circle cx="285.50" cy="442.50" r="2.55" fill="#ff0000"/>
<path d="M47.50,387.40L44.90,382.20L50.10,382.20Z" fill="#0000ff"/>
<path d="M53.00,388.00L50.40,382.80L55.60,382.80Z" fill="#0000ff"/>
<path d="M57.80,388.80L55.20,383.60L60.40,383.60Z" fill="#0000ff"/>
<path d="M62.70,386.20L60.10,381.00L65.30,381.00Z" fill="#0000ff"/>
<path d="M67.50,389.20L64.90,384.00L70.10,384.00Z" fill="#0000ff"/>
<path d="M72.40,388.00L69.80,382.80L75.00,382.80Z" fill="#0000ff"/>
<path d="M76.30,386.80L73.70,381.60L78.90,381.60Z" fill="#0000ff"/>
<path d="M80.90,389.80L78.30,384.60L83.50,384.60Z" fill="#0000ff"/>
<path d="M85.20,389.30L82.60,384.10L87.80,384.10Z" fill="#0000ff"/>
<path d="M90.00,389.80L87.40,384.60L92.60,384.60Z" fill="#0000ff"/>
<path d="M94.80,389.30L92.20,384.10L97.40,384.10Z" fill="#0000ff"/>
<path d="M99.50,390.30L96.90,385.10L102.10,385.10Z" fill="#0000ff"/>
<path d="M101.80,390.50L99.20,385.30L104.40,385.30Z" fill="#0000ff"/>
<path d="M106.00,388.60L103.40,383.40L108.60,383.40Z" fill="#0000ff"/>
<path d="M110.90,388.60L108.30,383.40L113.50,383.40Z" fill="#0000ff"/>
<path d="M115.20,388.60L112.60,383.40L117.80,383.40Z" fill="#0000ff"/>
<path d="M118.80,385.00L116.20,379.80L121.40,379.80Z" fill="#0000ff"/>
<path d="M122.50,387.00L119.90,381.80L125.10,381.80Z" fill="#0000ff"/>
<path d="M127.50,382.60L124.90,377.40L130.10,377.40Z" fill="#0000ff"/>
<path d="M133.10,380.60L130.50,375.40L135.70,375.40Z" fill="#0000ff"/>
<path d="M137.50,380.20L134.90,375.00L140.10,375.00Z" fill="#0000ff"/>
<path d="M141.80,377.00L139.20,371.80L144.40,371.80Z" fill="#0000ff"/>
<path d="M146.20,377.20L143.60,372.00L148.80,372.00Z" fill="#0000ff"/>
<path d="M150.40,376.20L147.80,371.00L153.00,371.00Z" fill="#0000ff"/>
<path d="M155.00,373.00L152.40,367.80L157.60,367.80Z" fill="#0000ff"/>
<path d="M159.60,371.00L157.00,365.80L162.20,365.80Z" fill="#0000ff"/>
<path d="M164.20,367.40L161.60,362.20L166.80,362.20Z" fill="#0000ff"/>
<path d="M168.80,363.90L166.20,358.70L171.40,358.70Z" fill="#0000ff"/>
<path d="M173.80,363.90L171.20,358.70L176.40,358.70Z" fill="#0000ff"/>
<path d="M178.10,362.00L175.50,356.80L180.70,356.80Z" fill="#0000ff"/>
<path d="M183.10,362.00L180.50,356.80L185.70,356.80Z" fill="#0000ff"/>
<path d="M187.50,360.10L184.90,354.90L190.10,354.90Z" fill="#0000ff"/>
<path d="M192.50,358.20L189.90,353.00L195.10,353.00Z" fill="#0000ff"/>
<path d="M197.50,358.20L194.90,353.00L200.10,353.00Z" fill="#0000ff"/>
<path d="M201.90,355.10L199.30,349.90L204.50,349.90Z" fill="#0000ff"/>
<path d="M206.90,355.70L204.30,350.50L209.50,350.50Z" fill="#0000ff"/>
<path d="M211.30,352.00L208.70,346.80L213.90,346.80Z" fill="#0000ff"/>
<path d="M215.60,350.10L213.00,344.90L218.20,344.90Z" fill="#0000ff"/>
<path d="M220.60,350.70L218.00,345.50L223.20,345.50Z" fill="#0000ff"/>
<path d="M225.00,355.10L222.40,349.90L227.60,349.90Z" fill="#0000ff"/>
<path d="M229.40,355.10L226.80,349.90L232.00,349.90Z" fill="#0000ff"/>
<path d="M234.40,359.50L231.80,354.30L237.00,354.30Z" fill="#0000ff"/>
<path d="M238.80,365.70L236.20,360.50L241.40,360.50Z" fill="#0000ff"/>
<path d="M243.10,375.10L240.50,369.90L245.70,369.90Z" fill="#0000ff"/>
<path d="M247.90,386.80L245.30,381.60L250.50,381.60Z" fill="#0000ff"/>
<path d="M252.70,406.80L250.10,401.60L255.30,401.60Z" fill="#0000ff"/>
<path d="M257.50,436.10L254.90,430.90L260.10,430.90Z" fill="#0000ff"/>
<path d="M262.10,444.00L259.50,438.80L264.70,438.80Z" fill="#0000ff"/>
<path d="M267.00,444.00L264.40,438.80L269.60,438.80Z" fill="#0000ff"/>
<path d="M271.80,444.60L269.20,439.40L274.40,439.40Z" fill="#0000ff"/>
</g>
<line x1="40.50" y1="443.50" x2="40.50" y2="445.00" stroke="#000" stroke-width="0.8"/>
<text x="40.80" y="454.00" text-anchor="middle" class="tk">0.0</text>
<line x1="86.83" y1="443.50" x2="86.83" y2="445.00" stroke="#000" stroke-width="0.8"/>
<text x="87.13" y="454.00" text-anchor="middle" class="tk">0.5</text>
<line x1="133.17" y1="443.50" x2="133.17" y2="445.00" stroke="#000" stroke-width="0.8"/>
<text x="133.47" y="454.00" text-anchor="middle" class="tk">1.0</text>
<line x1="179.50" y1="443.50" x2="179.50" y2="445.00" stroke="#000" stroke-width="0.8"/>
<text x="179.80" y="454.00" text-anchor="middle" class="tk">1.5</text>
<line x1="225.83" y1="443.50" x2="225.83" y2="445.00" stroke="#000" stroke-width="0.8"/>
<text x="226.13" y="454.00" text-anchor="middle" class="tk">2.0</text>
<line x1="272.17" y1="443.50" x2="272.17" y2="445.00" stroke="#000" stroke-width="0.8"/>
<text x="272.47" y="454.00" text-anchor="middle" class="tk">2.5</text>
<line x1="318.50" y1="443.50" x2="318.50" y2="445.00" stroke="#000" stroke-width="0.8"/>
<text x="318.80" y="454.00" text-anchor="middle" class="tk">3.0</text>
<line x1="39.00" y1="443.50" x2="40.50" y2="443.50" stroke="#000" stroke-width="0.8"/>
<text x="37.70" y="447.10" text-anchor="end" class="tk">0.00</text>
<line x1="39.00" y1="408.83" x2="40.50" y2="408.83" stroke="#000" stroke-width="0.8"/>
<text x="37.70" y="412.43" text-anchor="end" class="tk">0.01</text>
<line x1="39.00" y1="374.17" x2="40.50" y2="374.17" stroke="#000" stroke-width="0.8"/>
<text x="37.70" y="377.77" text-anchor="end" class="tk">0.02</text>
<line x1="39.00" y1="339.50" x2="40.50" y2="339.50" stroke="#000" stroke-width="0.8"/>
<text x="37.70" y="343.10" text-anchor="end" class="tk">0.03</text>
<line x1="39.00" y1="304.83" x2="40.50" y2="304.83" stroke="#000" stroke-width="0.8"/>
<text x="37.70" y="308.43" text-anchor="end" class="tk">0.04</text>
<line x1="39.00" y1="270.16" x2="40.50" y2="270.16" stroke="#000" stroke-width="0.8"/>
<text x="37.70" y="273.76" text-anchor="end" class="tk">0.05</text>
<line x1="39.00" y1="235.50" x2="40.50" y2="235.50" stroke="#000" stroke-width="0.8"/>
<text x="37.70" y="239.10" text-anchor="end" class="tk">0.06</text>
<rect x="40.50" y="235.50" width="278.00" height="208.00" fill="none" stroke="#000" stroke-width="0.65"/>
<text transform="translate(13.2,340.20) rotate(-90)" text-anchor="middle" font-size="9.75">g(ω)</text>
<rect x="43.4" y="11.10" width="108.00" height="70.20" rx="1.5" fill="#fff" fill-opacity="0.8" stroke="#cccccc" stroke-width="0.8"/>
<path d="M53.40,15.55L51.15,20.05L55.65,20.05Z" fill="none" stroke="#0000ff" stroke-width="0.8" stroke-linejoin="miter"/>
<text class="lgt"><tspan x="65.00" y="20.30" font-size="6.80" font-weight="bold">(</tspan><tspan x="68.08" y="20.30" font-size="6.80" font-weight="bold">1</tspan><tspan x="72.78" y="20.30" font-size="6.80" font-weight="bold">)</tspan><tspan x="76.57" y="20.30" font-size="6.80" font-style="italic">ϕ</tspan><tspan x="82.33" y="20.30" font-size="6.80">−</tspan><tspan x="89.31" y="20.30" font-size="6.80" font-style="italic">ϕ</tspan><tspan x="93.76" y="21.45" font-size="4.76" font-style="italic">J</tspan><tspan x="96.66" y="20.30" font-size="6.80">=</tspan><tspan x="103.63" y="20.30" font-size="6.80">5</tspan><tspan x="109.24" y="20.30" font-size="6.80">×</tspan><tspan x="116.21" y="20.30" font-size="6.80">1</tspan><tspan x="120.50" y="20.30" font-size="6.80">0</tspan><tspan x="124.87" y="17.62" font-size="4.76">−</tspan><tspan x="128.82" y="17.62" font-size="4.76">4</tspan></text>
<circle cx="53.40" cy="29.50" r="2.50" fill="none" stroke="#ff0000" stroke-width="0.8"/>
<text class="lgt"><tspan x="65.00" y="32.00" font-size="6.80" font-style="italic">ϕ</tspan><tspan x="70.77" y="32.00" font-size="6.80">−</tspan><tspan x="77.74" y="32.00" font-size="6.80" font-style="italic">ϕ</tspan><tspan x="82.19" y="33.15" font-size="4.76" font-style="italic">J</tspan><tspan x="85.09" y="32.00" font-size="6.80">=</tspan><tspan x="92.06" y="32.00" font-size="6.80">2</tspan><tspan x="97.67" y="32.00" font-size="6.80">×</tspan><tspan x="104.64" y="32.00" font-size="6.80">1</tspan><tspan x="108.94" y="32.00" font-size="6.80">0</tspan><tspan x="113.30" y="29.32" font-size="4.76">−</tspan><tspan x="117.26" y="29.32" font-size="4.76">2</tspan></text>
<path d="M53.40,37.85L56.75,41.20L53.40,44.55L50.05,41.20Z" fill="#000000"/>
<text class="lgt"><tspan x="65.00" y="43.70" font-size="6.80" font-weight="bold">(</tspan><tspan x="68.08" y="43.70" font-size="6.80" font-weight="bold">2</tspan><tspan x="72.78" y="43.70" font-size="6.80" font-weight="bold">)</tspan><tspan x="76.57" y="43.70" font-size="6.80" font-style="italic">ϕ</tspan><tspan x="81.02" y="44.85" font-size="4.76">m</tspan><tspan x="85.62" y="44.85" font-size="4.76">a</tspan><tspan x="88.52" y="44.85" font-size="4.76">x</tspan><tspan x="92.82" y="43.70" font-size="6.80">−</tspan><tspan x="99.79" y="43.70" font-size="6.80" font-style="italic">ϕ</tspan><tspan x="104.24" y="44.85" font-size="4.76" font-style="italic">J</tspan><tspan x="107.14" y="43.70" font-size="6.80">=</tspan><tspan x="114.11" y="43.70" font-size="6.80">6</tspan><tspan x="118.41" y="43.70" font-size="6.80">.</tspan><tspan x="120.55" y="43.70" font-size="6.80">4</tspan><tspan x="126.16" y="43.70" font-size="6.80">×</tspan><tspan x="133.14" y="43.70" font-size="6.80">1</tspan><tspan x="137.43" y="43.70" font-size="6.80">0</tspan><tspan x="141.79" y="41.02" font-size="4.76">−</tspan><tspan x="145.75" y="41.02" font-size="4.76">2</tspan></text>
<line x1="46.2" y1="51.90" x2="59.8" y2="51.90" stroke="#000" stroke-width="1.25" stroke-dasharray="3.9,1.75"/>
<text class="lgt"><tspan x="65.00" y="54.40" font-size="6.80" font-style="italic">g</tspan><tspan x="69.28" y="54.40" font-size="6.80">(</tspan><tspan x="71.92" y="54.40" font-size="6.80" font-style="italic">ω</tspan><tspan x="77.57" y="54.40" font-size="6.80">)</tspan><tspan x="81.52" y="54.40" font-size="6.80">∼</tspan><tspan x="88.49" y="54.40" font-size="6.80" font-style="italic">ω</tspan></text>
<circle cx="53.40" cy="63.40" r="2.55" fill="#ff0000"/>
<text class="lgt"><tspan x="65.00" y="65.90" font-size="6.80" font-style="italic">ϕ</tspan><tspan x="70.77" y="65.90" font-size="6.80">−</tspan><tspan x="77.74" y="65.90" font-size="6.80" font-style="italic">ϕ</tspan><tspan x="82.19" y="67.05" font-size="4.76" font-style="italic">J</tspan><tspan x="85.09" y="65.90" font-size="6.80">=</tspan><tspan x="92.06" y="65.90" font-size="6.80">1</tspan><tspan x="96.36" y="65.90" font-size="6.80">.</tspan><tspan x="98.13" y="65.90" font-size="6.80">2</tspan><tspan x="103.74" y="65.90" font-size="6.80">×</tspan><tspan x="110.71" y="65.90" font-size="6.80">1</tspan><tspan x="115.00" y="65.90" font-size="6.80">0</tspan><tspan x="119.36" y="63.22" font-size="4.76">−</tspan><tspan x="123.32" y="63.22" font-size="4.76">2</tspan></text>
<path d="M53.40,77.40L50.80,72.20L56.00,72.20Z" fill="#0000ff"/>
<text class="lgt"><tspan x="65.00" y="77.30" font-size="6.80" font-weight="bold">(</tspan><tspan x="68.08" y="77.30" font-size="6.80" font-weight="bold">3</tspan><tspan x="72.78" y="77.30" font-size="6.80" font-weight="bold">)</tspan><tspan x="76.57" y="77.30" font-size="6.80" font-style="italic">ϕ</tspan><tspan x="82.33" y="77.30" font-size="6.80">−</tspan><tspan x="89.31" y="77.30" font-size="6.80" font-style="italic">ϕ</tspan><tspan x="93.76" y="78.45" font-size="4.76" font-style="italic">J</tspan><tspan x="96.66" y="77.30" font-size="6.80">=</tspan><tspan x="103.63" y="77.30" font-size="6.80">5</tspan><tspan x="109.24" y="77.30" font-size="6.80">×</tspan><tspan x="116.21" y="77.30" font-size="6.80">1</tspan><tspan x="120.50" y="77.30" font-size="6.80">0</tspan><tspan x="124.87" y="74.62" font-size="4.76">−</tspan><tspan x="128.82" y="74.62" font-size="4.76">4</tspan></text>
<rect x="43.4" y="238.80" width="98.00" height="70.20" rx="1.5" fill="#fff" fill-opacity="0.8" stroke="#cccccc" stroke-width="0.8"/>
<path d="M53.40,243.25L51.15,247.75L55.65,247.75Z" fill="none" stroke="#0000ff" stroke-width="0.8" stroke-linejoin="miter"/>
<text class="lgt"><tspan x="65.00" y="248.00" font-size="6.80" font-weight="bold">(</tspan><tspan x="68.08" y="248.00" font-size="6.80" font-weight="bold">1</tspan><tspan x="72.78" y="248.00" font-size="6.80" font-weight="bold">)</tspan><tspan x="76.57" y="248.00" font-size="6.80" font-style="italic">ϕ</tspan><tspan x="82.33" y="248.00" font-size="6.80">−</tspan><tspan x="89.31" y="248.00" font-size="6.80" font-style="italic">ϕ</tspan><tspan x="93.76" y="249.15" font-size="4.76" font-style="italic">J</tspan><tspan x="96.66" y="248.00" font-size="6.80">=</tspan><tspan x="103.63" y="248.00" font-size="6.80">1</tspan><tspan x="107.92" y="248.00" font-size="6.80">.</tspan><tspan x="109.69" y="248.00" font-size="6.80">2</tspan><tspan x="115.30" y="248.00" font-size="6.80">×</tspan><tspan x="122.27" y="248.00" font-size="6.80">1</tspan><tspan x="126.57" y="248.00" font-size="6.80">0</tspan><tspan x="130.93" y="245.32" font-size="4.76">−</tspan><tspan x="134.89" y="245.32" font-size="4.76">3</tspan></text>
<circle cx="53.40" cy="257.20" r="2.50" fill="none" stroke="#ff0000" stroke-width="0.8"/>
<text class="lgt"><tspan x="65.00" y="259.70" font-size="6.80" font-style="italic">ϕ</tspan><tspan x="70.77" y="259.70" font-size="6.80">−</tspan><tspan x="77.74" y="259.70" font-size="6.80" font-style="italic">ϕ</tspan><tspan x="82.19" y="260.85" font-size="4.76" font-style="italic">J</tspan><tspan x="85.09" y="259.70" font-size="6.80">=</tspan><tspan x="92.06" y="259.70" font-size="6.80">8</tspan><tspan x="97.67" y="259.70" font-size="6.80">×</tspan><tspan x="104.64" y="259.70" font-size="6.80">1</tspan><tspan x="108.94" y="259.70" font-size="6.80">0</tspan><tspan x="113.30" y="257.02" font-size="4.76">−</tspan><tspan x="117.26" y="257.02" font-size="4.76">2</tspan></text>
<path d="M53.40,265.55L56.75,268.90L53.40,272.25L50.05,268.90Z" fill="#000000"/>
<text class="lgt"><tspan x="65.00" y="271.40" font-size="6.80" font-weight="bold">(</tspan><tspan x="68.08" y="271.40" font-size="6.80" font-weight="bold">2</tspan><tspan x="72.78" y="271.40" font-size="6.80" font-weight="bold">)</tspan><tspan x="76.57" y="271.40" font-size="6.80" font-style="italic">ϕ</tspan><tspan x="81.02" y="272.55" font-size="4.76">m</tspan><tspan x="85.62" y="272.55" font-size="4.76">a</tspan><tspan x="88.52" y="272.55" font-size="4.76">x</tspan><tspan x="92.82" y="271.40" font-size="6.80">−</tspan><tspan x="99.79" y="271.40" font-size="6.80" font-style="italic">ϕ</tspan><tspan x="104.24" y="272.55" font-size="4.76" font-style="italic">J</tspan><tspan x="107.14" y="271.40" font-size="6.80">=</tspan><tspan x="114.11" y="271.40" font-size="6.80">1</tspan><tspan x="118.41" y="271.40" font-size="6.80">0</tspan><tspan x="122.77" y="268.72" font-size="4.76">−</tspan><tspan x="126.73" y="268.72" font-size="4.76">1</tspan></text>
<line x1="46.2" y1="279.60" x2="59.8" y2="279.60" stroke="#000" stroke-width="1.25" stroke-dasharray="3.9,1.75"/>
<text class="lgt"><tspan x="65.00" y="282.10" font-size="6.80" font-style="italic">g</tspan><tspan x="69.28" y="282.10" font-size="6.80">(</tspan><tspan x="71.92" y="282.10" font-size="6.80" font-style="italic">ω</tspan><tspan x="77.57" y="282.10" font-size="6.80">)</tspan><tspan x="81.52" y="282.10" font-size="6.80">−</tspan><tspan x="88.49" y="282.10" font-size="6.80" font-style="italic">ω</tspan></text>
<circle cx="53.40" cy="291.10" r="2.55" fill="#ff0000"/>
<text class="lgt"><tspan x="65.00" y="293.60" font-size="6.80" font-style="italic">ϕ</tspan><tspan x="70.77" y="293.60" font-size="6.80">−</tspan><tspan x="77.74" y="293.60" font-size="6.80" font-style="italic">ϕ</tspan><tspan x="82.19" y="294.75" font-size="4.76" font-style="italic">J</tspan><tspan x="85.09" y="293.60" font-size="6.80">=</tspan><tspan x="92.06" y="293.60" font-size="6.80">5</tspan><tspan x="97.67" y="293.60" font-size="6.80">×</tspan><tspan x="104.64" y="293.60" font-size="6.80">1</tspan><tspan x="108.94" y="293.60" font-size="6.80">0</tspan><tspan x="113.30" y="290.92" font-size="4.76">−</tspan><tspan x="117.26" y="290.92" font-size="4.76">2</tspan></text>
<path d="M53.40,305.10L50.80,299.90L56.00,299.90Z" fill="#0000ff"/>
<text class="lgt"><tspan x="65.00" y="305.00" font-size="6.80" font-weight="bold">(</tspan><tspan x="68.08" y="305.00" font-size="6.80" font-weight="bold">3</tspan><tspan x="72.78" y="305.00" font-size="6.80" font-weight="bold">)</tspan><tspan x="76.57" y="305.00" font-size="6.80" font-style="italic">ϕ</tspan><tspan x="82.33" y="305.00" font-size="6.80">−</tspan><tspan x="89.31" y="305.00" font-size="6.80" font-style="italic">ϕ</tspan><tspan x="93.76" y="306.15" font-size="4.76" font-style="italic">J</tspan><tspan x="96.66" y="305.00" font-size="6.80">=</tspan><tspan x="103.63" y="305.00" font-size="6.80">1</tspan><tspan x="107.92" y="305.00" font-size="6.80">.</tspan><tspan x="110.07" y="305.00" font-size="6.80">3</tspan><tspan x="115.68" y="305.00" font-size="6.80">×</tspan><tspan x="122.65" y="305.00" font-size="6.80">1</tspan><tspan x="126.94" y="305.00" font-size="6.80">0</tspan><tspan x="131.31" y="302.32" font-size="4.76">−</tspan><tspan x="135.26" y="302.32" font-size="4.76">3</tspan></text>
<text x="296.3" y="198.6" text-anchor="middle" class="an">(a)</text>
<text x="296.3" y="426.8" text-anchor="middle" class="an">(b)</text>
<g class="xl">
<text x="159.6" y="471.2" font-size="10.5" font-style="italic">ω</text>
<text transform="translate(168.4,471.84) scale(1,1.8)" font-size="11" style="fill:#444">[</text>
<text transform="translate(194.6,471.84) scale(1,1.8)" font-size="11" style="fill:#444">]</text>
<text transform="translate(172.6,473.8) scale(1,1.45)" font-size="14">√</text>
<rect x="181.0" y="457.4" width="14.7" height="0.8" fill="#000"/>
<text x="187.3" y="465.7" font-size="6.82" font-style="italic" text-anchor="middle">k</text>
<rect x="183" y="467.3" width="9.4" height="0.7" fill="#000"/>
<text x="182.6" y="473" font-size="6.82" font-style="italic">m</text>
<text x="189.7" y="473.3" font-size="4.78" font-style="italic">L</text>
</g>
</svg>
</body></html>
